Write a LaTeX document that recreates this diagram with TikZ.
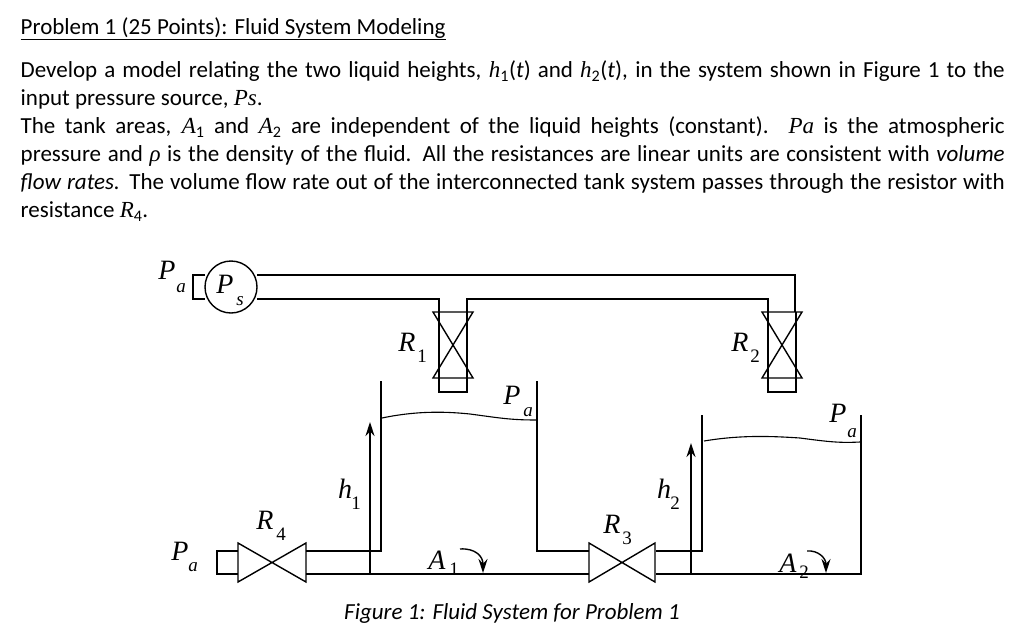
\documentclass[tikz,border=0pt]{standalone}
\usepackage{fontspec}
\usetikzlibrary{arrows.meta}
\setmainfont{Carlito}
\newfontfamily\tms{Liberation Serif}
\newcommand{\mv}[2]{{\tms\itshape #1}\textsubscript{#2}}
\begin{document}
\begin{tikzpicture}[x=1pt,y=-1pt,line width=1.4pt,
  lab/.style={font=\tms\itshape\fontsize{28}{28}\selectfont},
  sub/.style={font=\tms\itshape\fontsize{19}{19}\selectfont},
  subn/.style={font=\tms\fontsize{19}{19}\selectfont},
  arr/.style={-{Stealth[length=14pt,width=9pt]}}]
\useasboundingbox (0,0) rectangle (1024,643);
\fill[white] (0,0) rectangle (1024,643);
% text
\node[anchor=base west,inner sep=0,font=\fontsize{23}{28}\selectfont] (title) at (20,34) {\underline{Problem 1 (25 Points): Fluid System Modeling}};
\node[anchor=north west,inner sep=0,text width=984,align=justify,font=\fontsize{23}{28}\selectfont] (body) at (20,60) {\parindent0pt
Develop a model relating the two liquid heights, \mv{h}{1}(\textit{t}) and \mv{h}{2}(\textit{t}), in the system shown in Figure 1 to the\linebreak input pressure source, {\tms\itshape Ps}.\par
The tank areas, \mv{A}{1} and \mv{A}{2} are independent of the liquid heights (constant). {\tms\itshape Pa} is the atmospheric\linebreak pressure and {\tms\itshape ρ} is the density of the fluid. All the resistances are linear units are consistent with \textit{volume}\linebreak \textit{flow rates.} The volume flow rate out of the interconnected tank system passes through the resistor with\linebreak resistance \mv{R}{4}.};
\node[font=\itshape\fontsize{23}{24}\selectfont] (cap) at (512,613) {Figure 1: Fluid System for Problem 1};
% source
\node[circle,draw,minimum size=52,inner sep=0] (ps) at (231,287) {};
\node[lab] at (225,284) {P};
\node[sub] at (240,301) {s};
\draw (205,275) -- (193,275) -- (193,299) -- (205,299);
\node[lab] at (167,270) {P};
\node[sub] at (181,288) {a};
% top pipe
\draw (257,275) -- (795,275) -- (795,312);
\draw (257,299) -- (439,299) -- (439,312);
\draw (467,312) -- (467,299) -- (768,299) -- (768,312);
% vertical valves
\foreach \cx in {453,782}{
  \draw (\cx-20,312) -- (\cx+20,312) -- (\cx-20,378) -- (\cx+20,378) -- cycle;
  \draw (\cx-14,312) -- (\cx-14,378) (\cx+14,312) -- (\cx+14,378);
  \draw (\cx-14,378) -- (\cx-14,392) -- (\cx+14,392) -- (\cx+14,378);
}
\node[lab] at (407,342) {R}; \node[subn] at (422,356) {1};
\node[lab] at (740,342) {R}; \node[subn] at (755,356) {2};
% tanks
\draw (381,381) -- (381,551) -- (306,551);
\draw (238,551) -- (217,551) -- (217,574) -- (238,574);
\draw (306,574) -- (589,574);
\draw (656,574) -- (861,574) -- (861,415);
\draw (537,381) -- (537,551) -- (589,551);
\draw (656,551) -- (702,551) -- (702,415);
% horizontal valves
\foreach \cx/\w in {272/34,622/33}{
  \draw (\cx-\w,543) -- (\cx-\w,582) -- (\cx+\w,543) -- (\cx+\w,582) -- cycle;
}
\node[lab] at (265,520) {R}; \node[subn] at (281,534) {4};
\node[lab] at (612,524) {R}; \node[subn] at (627,538) {3};
\node[lab] at (180,551) {P}; \node[sub] at (193,567) {a};
% water surfaces
\draw[line width=1.1pt] (382,418) .. controls (420,410) and (450,412) .. (470,414) .. controls (500,418) and (510,420) .. (537,420);
\draw[line width=1.1pt] (704,441) .. controls (740,435) and (770,436) .. (800,438) .. controls (830,442) and (840,443) .. (860,442);
\node[lab] at (512,395) {P}; \node[sub] at (528,412) {a};
\node[lab] at (838,413) {P}; \node[sub] at (852,433) {a};
% heights
\draw[arr] (370,574) -- (370,422);
\draw[arr] (691,574) -- (691,443);
\node[lab] at (345,489) {h}; \node[subn] at (356,503) {1};
\node[lab] at (664,489) {h}; \node[subn] at (675,503) {2};
% areas
\node[lab] at (437,560) {A}; \node[subn] at (454,569) {1};
\draw[arr] (460,549) .. controls (475,548) and (483,556) .. (483,573);
\node[lab] at (788,563) {A}; \node[subn] at (804,572) {2};
\draw[arr] (807,551) .. controls (818,550) and (826,558) .. (826,573);
\end{tikzpicture}
\end{document}
